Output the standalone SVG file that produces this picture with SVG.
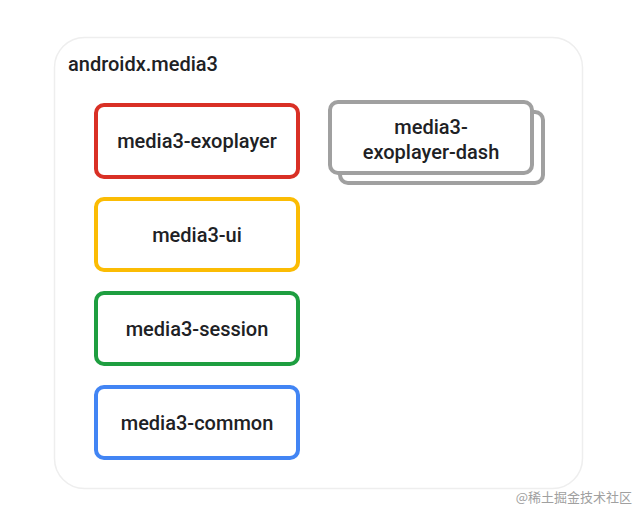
<svg xmlns="http://www.w3.org/2000/svg" width="641" height="510" viewBox="0 0 641 510">
<style>
.box{fill:#fff;stroke-width:4}
.lbl{font-family:"Roboto","Liberation Sans",sans-serif;font-size:20px;fill:#202124;text-anchor:middle;font-weight:500}
</style>
<rect x="0" y="0" width="641" height="510" fill="#fff"/>
<g id="container">
<rect x="54.500" y="37.500" width="528" height="451" rx="30" fill="#fff" stroke="#eeeeee" stroke-width="1.500"/>
<text x="68" y="71" font-family="Roboto,'Liberation Sans',sans-serif" font-size="20" font-weight="500" fill="#202124">androidx.media3</text>
</g>
<g id="exoplayer">
<rect class="box" x="96" y="105" width="202" height="72" rx="8" stroke="#d93025"/>
<text class="lbl" x="197" y="148">media3-exoplayer</text>
</g>
<g id="exoplayer-dash">
<rect class="box" x="340" y="112" width="203" height="71" rx="8" stroke="#a0a0a0"/>
<rect class="box" x="330" y="102" width="202" height="71" rx="8" stroke="#a0a0a0"/>
<text class="lbl" x="431" y="134">media3-</text>
<text class="lbl" x="431" y="159">exoplayer-dash</text>
</g>
<g id="ui">
<rect class="box" x="96" y="199" width="202" height="71" rx="8" stroke="#fbbc04"/>
<text class="lbl" x="197" y="242">media3-ui</text>
</g>
<g id="session">
<rect class="box" x="96" y="293" width="202" height="71" rx="8" stroke="#1e9e40"/>
<text class="lbl" x="197" y="336">media3-session</text>
</g>
<g id="common">
<rect class="box" x="96" y="387" width="202" height="71" rx="8" stroke="#4285f4"/>
<text class="lbl" x="197" y="430">media3-common</text>
</g>
<g id="connectors"/>
<text x="632" y="502" text-anchor="end" font-family="'Noto Sans CJK SC',sans-serif" font-size="13" fill="#a0a0a0">@稀土掘金技术社区</text>
</svg>
